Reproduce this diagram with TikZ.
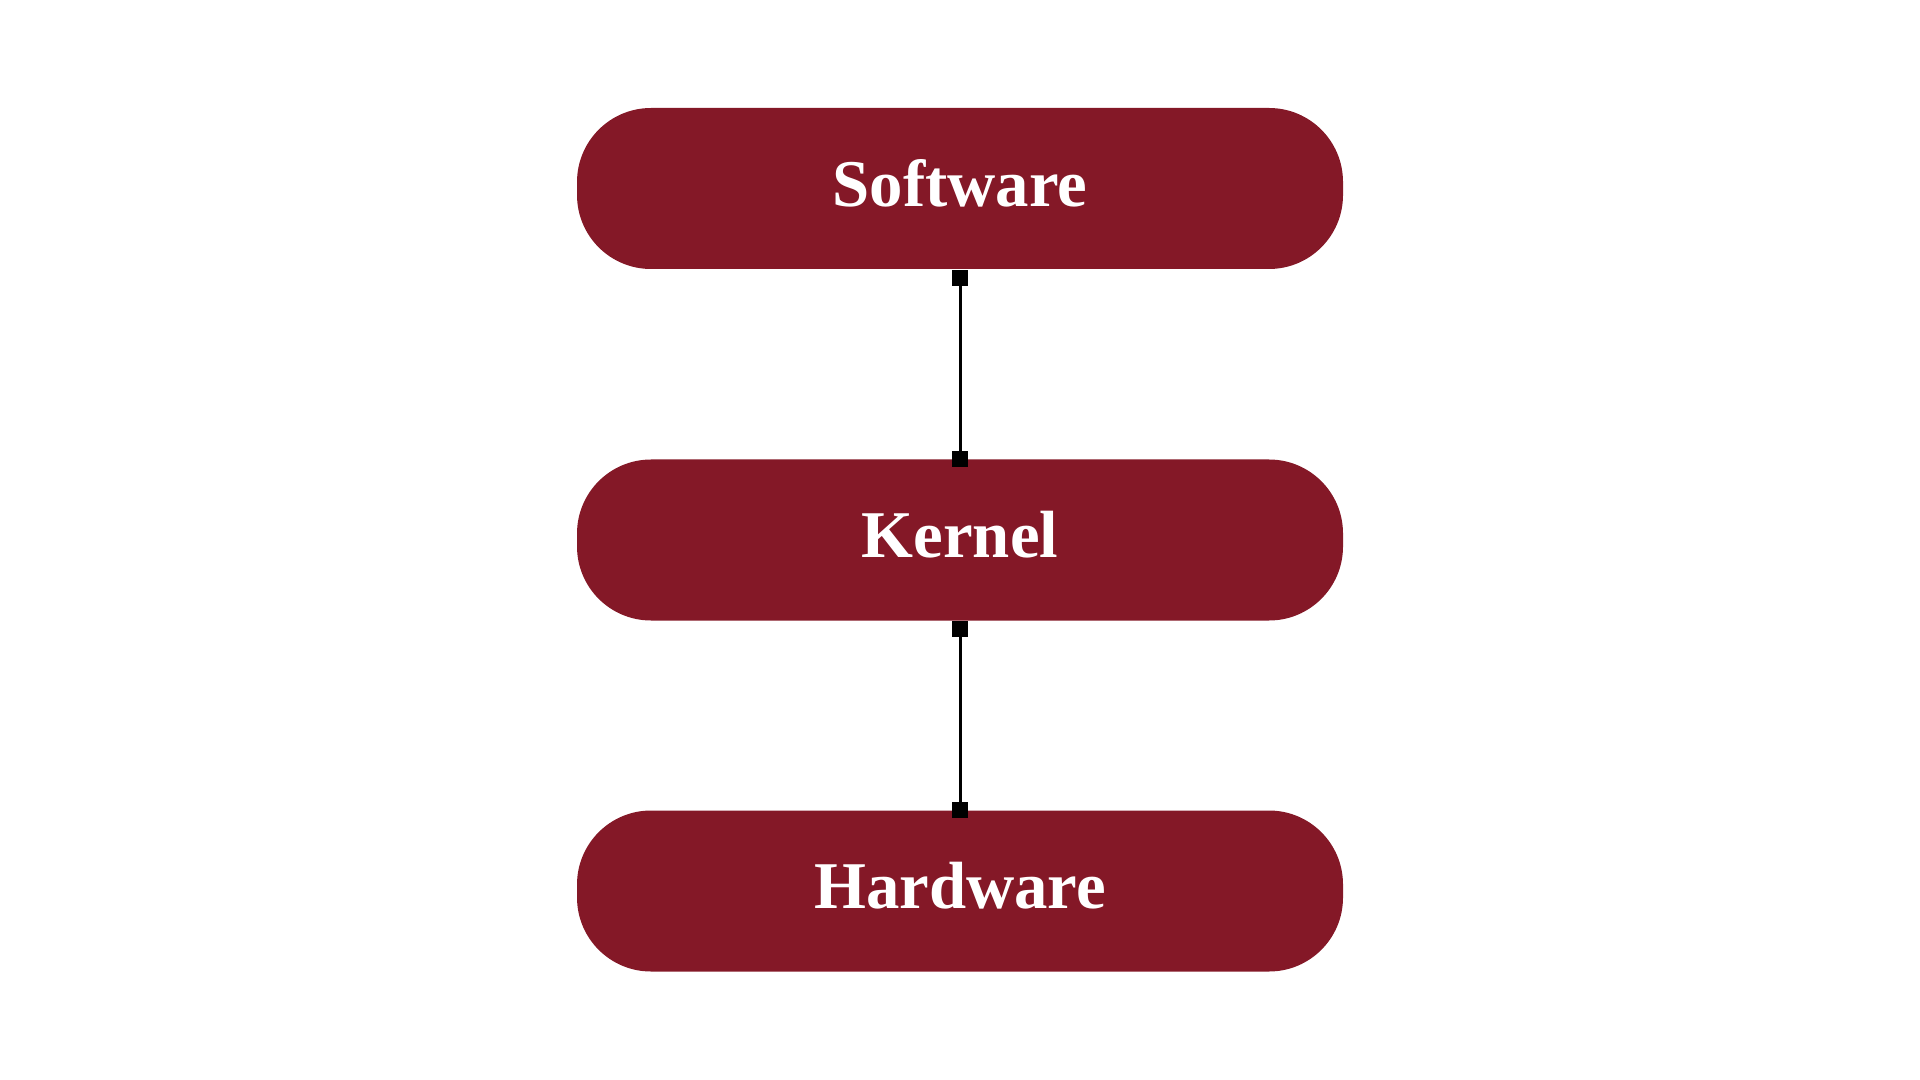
\documentclass[tikz,border=0pt]{standalone}
\usepackage{fontspec}
\setmainfont{Liberation Serif}
\usetikzlibrary{arrows.meta}
\definecolor{layerred}{HTML}{841827}

\begin{document}
\begin{tikzpicture}
      \useasboundingbox (0,0) rectangle (19.2,-10.8);
      \tikzset{layer/.style={fill=layerred,draw=none,rounded corners=0.74cm,minimum width=7.66cm,minimum height=1.61cm,text depth=0.12cm,text=white,font=\fontsize{19}{23}\selectfont\bfseries},
               link/.style={line width=0.03cm,{Square[length=0.16cm,width=0.16cm]}-{Square[length=0.16cm,width=0.16cm]}}}

      \node[layer] (s) at (9.6,-1.885){Software};
      \node[layer] (k) at (9.6,-5.40){Kernel};
      \node[layer] (h) at (9.6,-8.91){Hardware};

      \draw[link,shorten >=-0.08cm] (s) -- (k);
      \draw[link,shorten >=-0.08cm] (k) -- (h);
    \end{tikzpicture}
\end{document}
